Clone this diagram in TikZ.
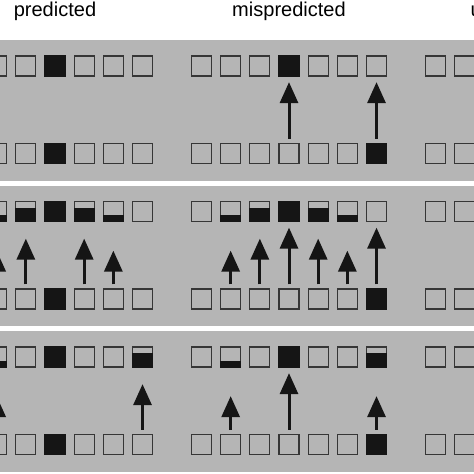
\documentclass[tikz,border=0pt]{standalone}
\usepackage{fontspec}
\setmainfont{Liberation Sans}
\usetikzlibrary{arrows.meta}
\definecolor{panelgray}{HTML}{B5B5B5}
\definecolor{ink}{HTML}{151515}
\definecolor{rim}{HTML}{363636}

\begin{document}
\begin{tikzpicture}[x=0.02cm,y=-0.02cm,
    cell/.style={draw=rim,line width=0.025cm,minimum size=0.4cm,inner sep=0pt},
    up/.style={ink,line width=0.06cm,-{Triangle[width=0.36cm,length=0.42cm]}},
    title/.style={anchor=base,font=\fontsize{11.4}{13}\selectfont}]
  \useasboundingbox (0,0) rectangle (474,474);
  % grey bands
  \foreach \k in {0,1,2}
    \fill[panelgray] (0,{40+145.5*\k}) rectangle (474,{180.5+145.5*\k});
  % column heads
  \node[title] (hpred) at (55,16) {predicted};
  \node[title] (hmis) at (289,16) {mispredicted};
  \node[title] (hunp) at (523,16) {unpredicted};
  % cells: t = upper row, b = lower row
  \foreach \k in {0,1,2}
    \foreach \g in {0,1,2}
      \foreach \i in {0,...,6} {
        \node[cell] (t\k\g\i) at ({-32.5+234*\g+29.17*\i},{66+145.5*\k}) {};
        \node[cell] (b\k\g\i) at ({-32.5+234*\g+29.17*\i},{153.5+145.5*\k}) {};
      }
  % filled part of a cell
  \foreach \c/\f in {t003/1,b003/1,t013/1,b016/1,
      t101/.33,t102/.67,t103/1,t104/.67,t105/.33,b103/1,
      t111/.33,t112/.67,t113/1,t114/.67,t115/.33,b116/1,
      t201/.33,t203/1,t206/.67,b203/1,
      t211/.33,t213/1,t216/.67,b216/1}
    \fill[ink] (\c.south west) rectangle ([yshift=\f*0.425cm]\c.south east);
  % arrows, gap below the upper cell
  \foreach \c/\d in {013/.11,016/.11,
      101/.57,102/.33,104/.33,105/.57,
      111/.57,112/.33,113/.11,114/.33,115/.57,116/.11,
      201/.57,206/.33,211/.57,213/.11,216/.57}
    \draw[up] ([yshift=0.08cm]b\c.north) -- ([yshift=-\d cm]t\c.south);
\end{tikzpicture}
\end{document}
